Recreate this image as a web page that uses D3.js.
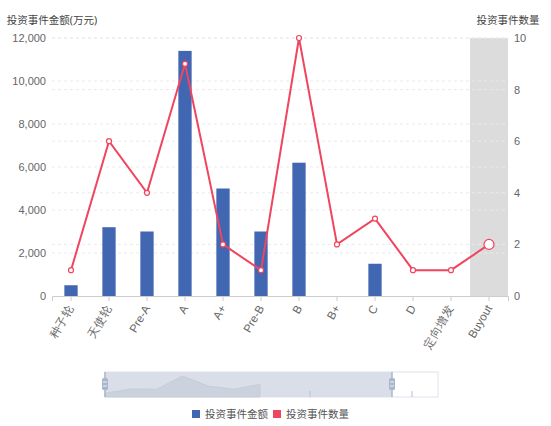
<!DOCTYPE html>
<html>
<head>
<meta charset="utf-8">
<script src="https://cdn.jsdelivr.net/npm/d3@7/dist/d3.min.js"></script>
<style>
  html, body { margin: 0; padding: 0; background: #fff; }
  svg { display: block; font-family: "Noto Sans", "Noto Sans CJK SC", sans-serif; }
</style>
</head>
<body>
<div id="chart"></div>
<script>
// ---- data ----
const categories = ['种子轮', '天使轮', 'Pre-A', 'A', 'A+', 'Pre-B', 'B', 'B+', 'C', 'D', '定向增发', 'Buyout'];
const amounts = [500, 3200, 3000, 11400, 5000, 3000, 6200, 0, 1500, 0, 0, 0];
const counts = [1, 6, 4, 9, 2, 1, 10, 2, 3, 1, 1, 2];
const leftTicks = [0, 2000, 4000, 6000, 8000, 10000, 12000];
const rightTicks = [0, 2, 4, 6, 8, 10];
const shadowValues = [500, 3200, 3000, 11400, 5000, 3000, 6200];
const seriesNames = ['投资事件金额', '投资事件数量'];
const highlighted = 'Buyout';

const W = 551, H = 426;
const m = { left: 52, right: 43, top: 38, bottom: 130 };
const blue = '#4267B2', red = '#F0455E';

const svg = d3.select('#chart').append('svg').attr('width', W).attr('height', H);

const x = d3.scaleBand().domain(categories).range([m.left, W - m.right]);
const yL = d3.scaleLinear().domain([0, 12000]).range([H - m.bottom, m.top]);
const yR = d3.scaleLinear().domain([0, 10]).range([H - m.bottom, m.top]);

// highlighted category shadow
svg.append('rect')
  .attr('x', x(highlighted)).attr('y', m.top)
  .attr('width', x.bandwidth()).attr('height', yL(0) - m.top)
  .attr('fill', '#dcdcdc');

// grid lines (both axes)
const grid = svg.append('g').attr('stroke', '#ebebeb').attr('stroke-dasharray', '3,3');
leftTicks.slice(1).forEach(t => grid.append('line')
  .attr('x1', m.left).attr('x2', W - m.right).attr('y1', yL(t)).attr('y2', yL(t)));
rightTicks.slice(1).forEach(t => grid.append('line')
  .attr('x1', m.left).attr('x2', W - m.right).attr('y1', yR(t)).attr('y2', yR(t)));

// left axis
const axL = svg.append('g').attr('transform', `translate(${m.left},0)`)
  .call(d3.axisLeft(yL).tickValues(leftTicks).tickSize(0).tickPadding(6).tickFormat(d3.format(',')));
axL.select('.domain').remove();
axL.selectAll('text').attr('fill', '#666').style('font-size', '11px');

// right axis
const axR = svg.append('g').attr('transform', `translate(${W - m.right},0)`)
  .call(d3.axisRight(yR).tickValues(rightTicks).tickSize(0).tickPadding(6));
axR.select('.domain').remove();
axR.selectAll('text').attr('fill', '#666').style('font-size', '11px');

// axis names
svg.append('text').attr('x', m.left).attr('y', 24).attr('text-anchor', 'middle')
  .attr('fill', '#444').style('font-size', '10.5px').text('投资事件金额(万元)');
svg.append('text').attr('x', W - m.right).attr('y', 24).attr('text-anchor', 'middle')
  .attr('fill', '#444').style('font-size', '10.5px').text('投资事件数量');

// bars
svg.append('g').selectAll('rect').data(categories).join('rect')
  .attr('x', (d, i) => x(d) + x.bandwidth() * 0.325)
  .attr('width', x.bandwidth() * 0.35)
  .attr('y', (d, i) => yL(amounts[i]))
  .attr('height', (d, i) => yL(0) - yL(amounts[i]))
  .attr('fill', blue);

// x axis
const axX = svg.append('g').attr('transform', `translate(0,${yL(0)})`)
  .call(d3.axisBottom(x).tickSize(5).tickPadding(4));
axX.select('.domain').attr('stroke', '#ccc');
axX.selectAll('line').attr('stroke', '#ccc');
axX.selectAll('text')
  .attr('fill', '#666').style('font-size', '11.5px')
  .attr('text-anchor', 'end')
  .attr('dy', '0.35em')
  .attr('transform', 'translate(0,10) rotate(-60)')
  .attr('y', 0).attr('x', 0);

// line
const line = d3.line().x((d, i) => x(categories[i]) + x.bandwidth() / 2).y(d => yR(d));
svg.append('path').datum(counts).attr('d', line)
  .attr('fill', 'none').attr('stroke', red).attr('stroke-width', 2);
svg.append('g').selectAll('circle').data(counts).join('circle')
  .attr('cx', (d, i) => x(categories[i]) + x.bandwidth() / 2)
  .attr('cy', d => yR(d))
  .attr('r', (d, i) => categories[i] === highlighted ? 5 : 2.5)
  .attr('fill', '#fff').attr('stroke', red).attr('stroke-width', 1.2);

// data zoom slider
const sl = { x0: 105, x1: 438, y0: 372, y1: 397, sel: 392 };
svg.append('rect').attr('x', sl.x0).attr('y', sl.y0)
  .attr('width', sl.x1 - sl.x0).attr('height', sl.y1 - sl.y0)
  .attr('fill', '#fff').attr('stroke', '#dde2ec');
svg.append('rect').attr('x', sl.x0).attr('y', sl.y0)
  .attr('width', sl.sel - sl.x0).attr('height', sl.y1 - sl.y0)
  .attr('fill', '#d9dee8');

const sx = d3.scaleLinear().domain([0, shadowValues.length - 1]).range([sl.x0, 260]);
const sy = d3.scaleLinear().domain([0, 11400]).range([sl.y1 - 3, sl.y0 + 4]);
const area = d3.area().x((d, i) => sx(i)).y0(sl.y1).y1(d => sy(d));
svg.append('path').datum(shadowValues).attr('d', area)
  .attr('fill', '#ccd2dd').attr('stroke', '#c3cad6').attr('stroke-width', 0.8);

[310, 412].forEach(px => svg.append('line')
  .attr('x1', px).attr('x2', px).attr('y1', sl.y1 - 6).attr('y2', sl.y1)
  .attr('stroke', '#b9c3d3'));

[sl.x0, sl.sel].forEach(px => {
  svg.append('line').attr('x1', px).attr('x2', px).attr('y1', sl.y0).attr('y2', sl.y1)
    .attr('stroke', '#a9b7cc').attr('stroke-width', 1.5);
  svg.append('rect').attr('x', px - 3).attr('y', 378).attr('width', 6).attr('height', 12)
    .attr('rx', 1.5).attr('fill', '#a9b7cc');
  [382, 386].forEach(yy => svg.append('line')
    .attr('x1', px - 2).attr('x2', px + 2).attr('y1', yy).attr('y2', yy)
    .attr('stroke', '#fff').attr('stroke-width', 0.8));
});

// legend
const legend = svg.append('g');
const lgX = [192, 273];
seriesNames.forEach((name, i) => {
  legend.append('rect').attr('x', lgX[i]).attr('y', 410).attr('width', 8).attr('height', 8)
    .attr('fill', i === 0 ? blue : red);
  legend.append('text').attr('x', lgX[i] + 13).attr('y', 418)
    .attr('fill', '#555').style('font-size', '10.5px').text(name);
});
</script>
</body>
</html>
